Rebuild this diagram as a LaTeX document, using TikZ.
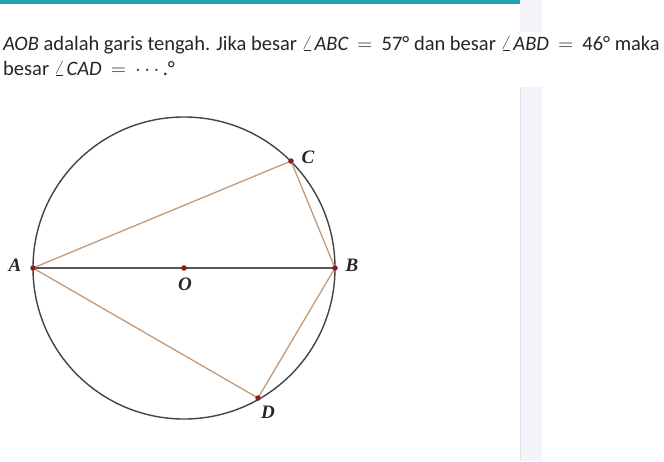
\documentclass[tikz,border=0pt]{standalone}
\usepackage{fontspec}
\usetikzlibrary{backgrounds}
\setmainfont{Carlito}
\newfontfamily\mvfont{Liberation Serif}
\newcommand{\mv}[1]{{\itshape #1}}
\newcommand{\eqs}{\hspace{0.45em}$=$\hspace{0.45em}}
\newcommand{\ang}{$\angle$\hspace{0.08em}}
\definecolor{teal}{HTML}{1FA3B0}
\definecolor{strip}{HTML}{F4F4FA}
\definecolor{stripedge}{HTML}{E2E2EA}
\definecolor{circ}{HTML}{444444}
\definecolor{chord}{HTML}{C49A78}
\definecolor{dot}{HTML}{8E1B1B}
\tikzset{
  chordline/.style={draw=chord, line width=1.3pt},
  ptdot/.style={circle, fill=dot, inner sep=0pt, minimum size=5.5pt},
  ptlabel/.style={font=\mvfont\itshape\bfseries\fontsize{19}{19}\selectfont, text=black!85},
  qtext/.style={anchor=base west, inner sep=0pt, font=\fontsize{20.5}{20.5}\selectfont, text=black!85}
}
\begin{document}
\begin{tikzpicture}[x=1pt,y=-1pt]
\useasboundingbox (0,0) rectangle (664,461);
% question text
\node[qtext] (q1) at (3,50) {\mv{AOB} adalah garis tengah. Jika besar \ang\mv{ABC}\eqs 57° dan besar \ang\mv{ABD}\eqs 46° maka};
\node[qtext] (q2) at (3,75) {besar \ang\mv{CAD}\eqs $\cdots$\,.°};
% points
\node[ptdot] (A) at (33,268) {};
\node[ptdot] (B) at (335,268) {};
\node[ptdot] (O) at (184,268) {};
\node[ptdot] (C) at (291,161) {};
\node[ptdot] (D) at (258,398) {};
% labels
\node[ptlabel] (lA) at (15,265) {A};
\node[ptlabel] (lB) at (352,265) {B};
\node[ptlabel] (lO) at (185,284) {O};
\node[ptlabel] (lC) at (308,157) {C};
\node[ptlabel] (lD) at (268,412) {D};
\begin{scope}[on background layer]
  \fill[white] (0,0) rectangle (664,461);
  % page decorations
  \fill[teal] (0,0) rectangle (520,3.5);
  \fill[strip] (520,0) rectangle (542,32);
  \fill[strip] (520,87) rectangle (542,461);
  \draw[stripedge, line width=0.8pt] (520.5,87) -- (520.5,461);
  % circle and segments
  \draw[circ, line width=1.4pt] (O.center) circle (151);
  \draw[circ!90, line width=1.4pt] (A.center) -- (B.center);
  \draw[chordline] (A.center) -- (C.center) -- (B.center) -- (D.center) -- cycle;
\end{scope}
\end{tikzpicture}
\end{document}
